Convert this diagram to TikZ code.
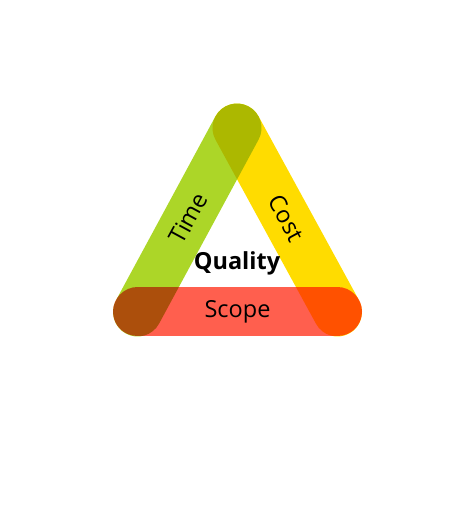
\documentclass[tikz,border=0pt]{standalone}
\usepackage{fontspec}
\setmainfont{Open Sans}
\usetikzlibrary{calc}

\definecolor{timegreen}{RGB}{172,214,40}
\definecolor{costyellow}{RGB}{255,220,0}
\definecolor{scopered}{RGB}{255,95,78}

\begin{document}
\begin{tikzpicture}[x=1pt, y=1pt,
	bar/.style={line width=49pt, line cap=round, blend mode=multiply},
	lbl/.style={font=\fontsize{23.5}{26}\selectfont, text=black, inner sep=0pt}]
\useasboundingbox (0,0) rectangle (474,505);
\coordinate (top) at (237,377);
\coordinate (bl) at (137.5,193);
\coordinate (br) at (337.5,193);
% the three sides
\draw[bar, timegreen] (bl) -- (top);
\draw[bar, costyellow] (top) -- (br);
\draw[bar, scopered] (bl) -- (br);
% labels
\node[lbl, rotate=61.5] (time) at ($(bl)!.51!(top)$) {Time};
\node[lbl, rotate=-61.5] (cost) at ($(top)!.49!(br)$) {Cost};
\node[lbl, font=\fontsize{23.5}{26}\selectfont\bfseries] (quality) at (237,242) {Quality};
\node[lbl] (scope) at ($(bl)!.5!(br)$) {Scope};
\end{tikzpicture}
\end{document}
